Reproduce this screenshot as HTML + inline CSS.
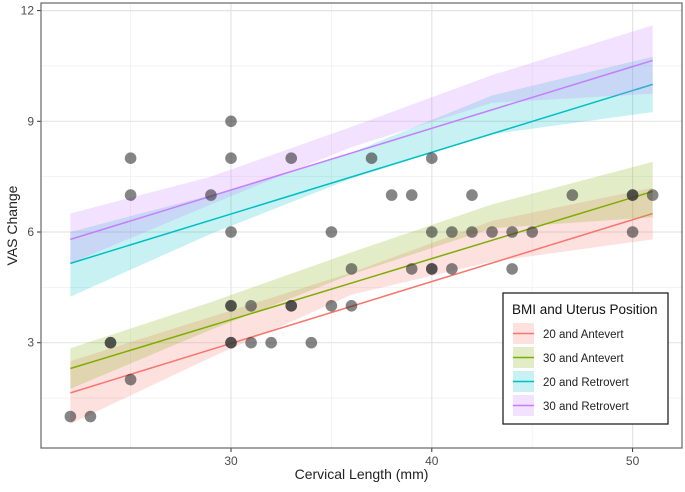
<!DOCTYPE html>
<html><head><meta charset="utf-8"><style>
body{margin:0;background:#fff;font-family:"Liberation Sans",sans-serif}
</style></head><body>
<svg id="c" width="685" height="487" xmlns="http://www.w3.org/2000/svg" font-family="Liberation Sans, sans-serif"></svg>
<script>
const xTicks=[30,40,50];
const yTicks=[3,6,9,12];
const seriesNames=["20 and Antevert","30 and Antevert","20 and Retrovert","30 and Retrovert"];
const seriesColors=["#F8766D","#7CAE00","#00BFC4","#C77CFF"];
const bandX=[22,29,36,43,51];
const fitStart=[1.64,2.3,5.15,5.8];
const fitEnd=[6.5,7.1,10.0,10.65];
const bandLo=[[0.8,2.6,4.3,5.2,5.8],[1.75,3.35,4.85,6.1,6.4],[4.25,5.95,7.45,8.65,9.25],[5.15,6.75,8.3,9.5,9.75]];
const bandHi=[[2.5,3.7,4.9,6.3,7.2],[2.85,4.1,5.45,6.75,7.9],[6.0,7.0,8.15,9.7,10.75],[6.5,7.5,8.85,10.25,11.6]];
const ptX=[22,23,24,24,25,25,25,29,30,30,30,30,30,30,30,31,31,32,33,33,33,34,35,35,36,36,37,38,39,39,40,40,40,40,41,41,42,42,43,44,44,45,47,50,50,50,51];
const ptY=[1,1,3,3,8,7,2,7,9,8,6,4,4,3,3,4,3,3,8,4,4,3,6,4,5,4,8,7,7,5,8,6,5,5,6,5,7,6,6,6,5,6,7,7,7,6,7];
const L=41,R=682,T=3,B=448;
const X=v=>231+(v-30)*20.08;
const Y=v=>342.7-(v-3)*36.9;
const svg=document.getElementById('c');
const NS="http://www.w3.org/2000/svg";
function mk(t,a,p){const e=document.createElementNS(NS,t);for(const k in a)e.setAttribute(k,a[k]);(p||svg).appendChild(e);return e;}
let e;
// grid
[25,35,45].forEach(v=>{e=mk('line',{x1:X(v),x2:X(v),y1:T,y2:B,stroke:'#f0f0f0','stroke-width':0.8});

});
[1.5,4.5,7.5,10.5].forEach(v=>{e=mk('line',{x1:L,x2:R,y1:Y(v),y2:Y(v),stroke:'#f0f0f0','stroke-width':0.8});

});
xTicks.forEach(v=>{e=mk('line',{x1:X(v),x2:X(v),y1:T,y2:B,stroke:'#e4e4e4','stroke-width':1.2});


e=mk('line',{x1:X(v),x2:X(v),y1:B,y2:B+4,stroke:'#333'});


e=mk('text',{x:X(v),y:B+17,'text-anchor':'middle','font-size':12,fill:'#4d4d4d'});e.textContent=v;

});
yTicks.forEach(v=>{e=mk('line',{x1:L,x2:R,y1:Y(v),y2:Y(v),stroke:'#e4e4e4','stroke-width':1.2});


e=mk('line',{x1:L-4,x2:L,y1:Y(v),y2:Y(v),stroke:'#333'});


e=mk('text',{x:L-7,y:Y(v)+4,'text-anchor':'end','font-size':12,fill:'#4d4d4d'});e.textContent=v;

});
// bands & lines
for(let s=0;s<4;s++){
 let d='M'+bandX.map((x,i)=>X(x)+','+Y(bandHi[s][i])).join('L')+'L'+bandX.slice().reverse().map((x,i)=>X(x)+','+Y(bandLo[s][bandX.length-1-i])).join('L')+'Z';
 e=mk('path',{d:d,fill:seriesColors[s],'fill-opacity':0.22,stroke:'none'});
 
 
 e=mk('line',{x1:X(22),y1:Y(fitStart[s]),x2:X(51),y2:Y(fitEnd[s]),stroke:seriesColors[s],'stroke-width':1.5});
 
 
}
// points
ptX.forEach((x,i)=>{e=mk('circle',{cx:X(x),cy:Y(ptY[i]),r:5.8,fill:'#333','fill-opacity':0.6});

});
// border
e=mk('rect',{x:L,y:T,width:R-L,height:B-T,fill:'none',stroke:'#666','stroke-width':1.2});


e=mk('text',{x:(L+R)/2,y:479,'text-anchor':'middle','font-size':14,fill:'#222'});e.textContent='Cervical Length (mm)';


e=mk('text',{x:0,y:0,'text-anchor':'middle','font-size':14,fill:'#222',transform:'translate(17,'+((T+B)/2)+') rotate(-90)'});e.textContent='VAS Change';


// legend
const g=mk('g',{});


mk('rect',{x:503,y:293,width:165,height:131,fill:'#fff',stroke:'#222','stroke-width':1.3},g);
e=mk('text',{x:512,y:314,'font-size':13.5,fill:'#111'},g);e.textContent='BMI and Uterus Position';


for(let s=0;s<4;s++){const y0=323+s*24;
 mk('rect',{x:513,y:y0,width:21,height:21,fill:seriesColors[s],'fill-opacity':0.22},g);
 mk('line',{x1:513,x2:534,y1:y0+10.5,y2:y0+10.5,stroke:seriesColors[s],'stroke-width':1.5},g);
 e=mk('text',{x:543,y:y0+15,'font-size':11.5,fill:'#222'},g);e.textContent=seriesNames[s];
 
 
}
</script>
</body></html>
